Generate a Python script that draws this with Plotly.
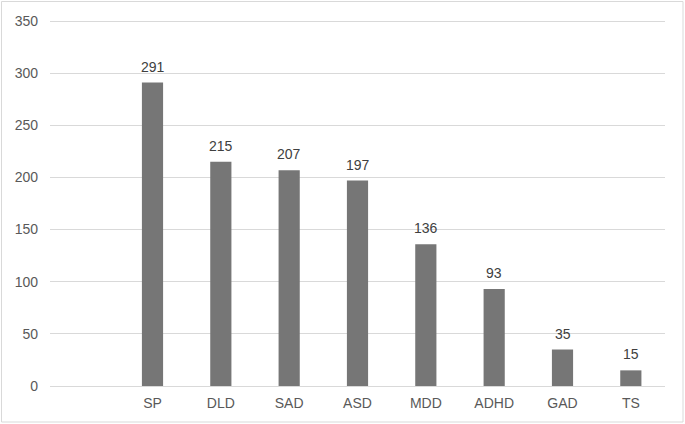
import plotly.graph_objects as go

categories = ["", "SP", "DLD", "SAD", "ASD", "MDD", "ADHD", "GAD", "TS"]
values = [None, 291, 215, 207, 197, 136, 93, 35, 15]
labels = ["" if v is None else str(v) for v in values]
y_ticks = [0, 50, 100, 150, 200, 250, 300, 350]

W, H = 685, 424
L, R, T, B = 50, 20, 20, 38
FONT = "Liberation Sans, Arial, sans-serif"

fig = go.Figure(go.Bar(
    x=categories, y=values,
    marker=dict(color="#767676", line=dict(width=0)),
    width=0.31, hoverinfo="skip",
))

for c, v, t in zip(categories, values, labels):
    if v is None:
        continue
    fig.add_annotation(x=c, y=v, text=t, showarrow=False, yanchor="bottom",
                       yshift=6, font=dict(family=FONT, size=14, color="#404040"))

pw, ph = W - L - R, H - T - B
fig.add_shape(type="rect", xref="paper", yref="paper",
              x0=(1.5 - L) / pw, x1=(683 - L) / pw,
              y0=-(B - 2) / ph, y1=1 + (T - 1.5) / ph,
              line=dict(color="#d9d9d9", width=1), layer="below")

fig.update_layout(
    width=W, height=H, margin=dict(l=L, r=R, t=T, b=B),
    paper_bgcolor="white", plot_bgcolor="white", showlegend=False,
    font=dict(family=FONT, size=14, color="#595959"),
    xaxis=dict(type="category", showgrid=False, showline=False, ticks="",
               tickfont=dict(size=14, color="#595959"), ticklabelstandoff=7),
    yaxis=dict(range=[0, 351], tickvals=y_ticks, showgrid=True, gridcolor="#d9d9d9",
               gridwidth=1, zeroline=True, zerolinecolor="#d9d9d9", zerolinewidth=1,
               showline=False, ticks="", tickfont=dict(size=14, color="#595959"),
               ticklabelstandoff=11),
)

fig.write_html("out.html", config={"displayModeBar": False})
with open("out.html", encoding="utf-8") as f:
    html = f.read()
html = html.replace("<body>", '<body style="margin:0;padding:0;overflow:hidden">', 1)
with open("out.html", "w", encoding="utf-8") as f:
    f.write(html)
